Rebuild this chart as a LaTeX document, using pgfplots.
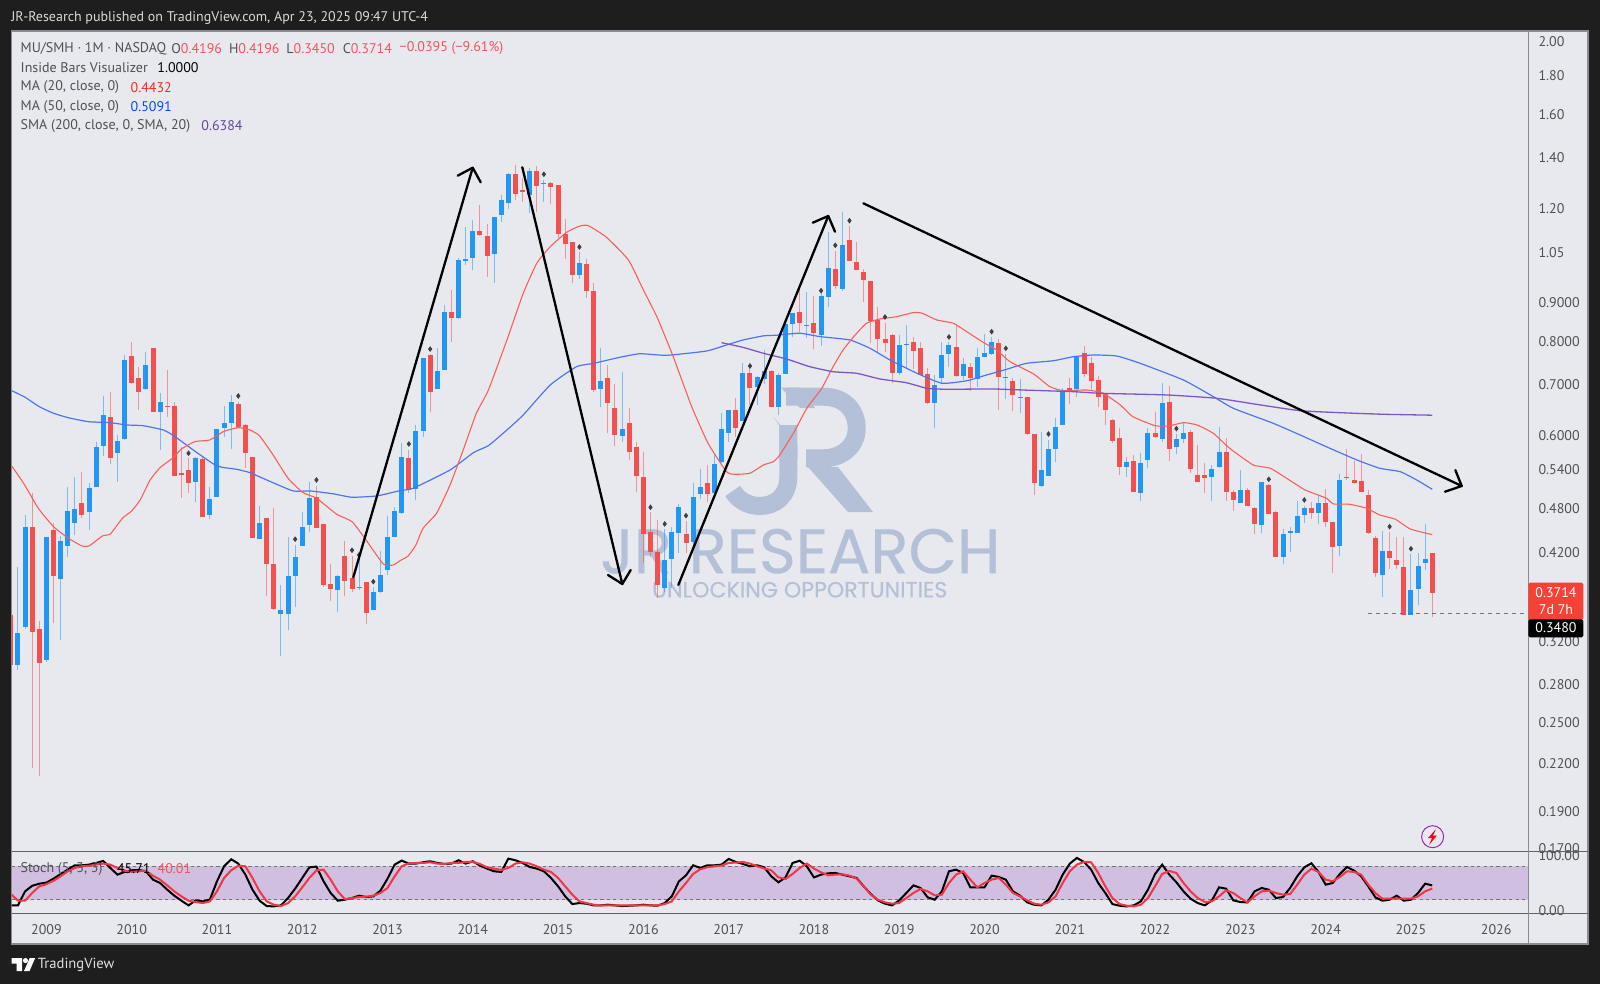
\documentclass[border=0pt]{standalone}
\usepackage{fontspec}
\usepackage{pgfplots}
\usepackage{pgfplotstable}
\pgfplotsset{compat=1.18}
\setmainfont{PT Sans}
\newfontfamily\wmfont[FakeBold=0.4]{Poppins}
\newfontfamily\symfont{DejaVu Sans}

\definecolor{bgdark}{HTML}{1E1E1E}
\definecolor{pane}{HTML}{E8E9EE}
\definecolor{edge}{HTML}{8A8B90}
\definecolor{txt}{HTML}{4F5054}
\definecolor{upc}{HTML}{2196F3}
\definecolor{dnc}{HTML}{F2504E}
\definecolor{valred}{HTML}{F7525F}
\definecolor{ma20}{HTML}{F6605A}
\definecolor{ma50}{HTML}{4E74F0}
\definecolor{sma200}{HTML}{7E57C2}
\definecolor{band}{HTML}{D0BFE0}
\definecolor{stochd}{HTML}{F23645}
\definecolor{wm}{HTML}{B3C0D8}
\definecolor{tagred}{HTML}{F44336}
\definecolor{zapc}{HTML}{9C27B0}

% monthly candles, m = months since Jan 2009
\pgfplotstableread{
m o h l c
-4 0.2977 0.4020 0.2932 0.3280
-3 0.3346 0.4707 0.3323 0.4542
0 0.3023 0.4406 0.3008 0.4406
2 0.3875 0.4415 0.3213 0.4344
3 0.4286 0.5123 0.4144 0.4769
4 0.4594 0.5292 0.4428 0.4798
6 0.4755 0.5186 0.4496 0.5117
7 0.5133 0.5889 0.5133 0.5794
8 0.5812 0.6776 0.5637 0.6394
10 0.5684 0.6010 0.5211 0.5901
11 0.5931 0.7673 0.5919 0.7563
14 0.6923 0.7743 0.6895 0.7442
16 0.6453 0.6826 0.5741 0.6641
21 0.5211 0.5624 0.4902 0.5602
23 0.4711 0.5123 0.4646 0.4939
24 0.4978 0.6121 0.4978 0.6121
25 0.6140 0.6567 0.5967 0.6229
26 0.6240 0.6791 0.5758 0.6641
30 0.4374 0.4839 0.4374 0.4594
33 0.3483 0.3801 0.3063 0.3521
34 0.3479 0.4406 0.3313 0.3907
35 0.3911 0.4296 0.3557 0.4137
36 0.4278 0.4755 0.4278 0.4534
37 0.4570 0.5202 0.4473 0.4958
41 0.3746 0.3919 0.3503 0.3911
44 0.3772 0.4143 0.3749 0.3781
46 0.3521 0.3781 0.3521 0.3721
47 0.3724 0.4221 0.3706 0.3923
48 0.3979 0.4693 0.3919 0.4406
49 0.4406 0.4826 0.4406 0.4769
50 0.4740 0.5860 0.4722 0.5613
52 0.5097 0.6196 0.4928 0.6090
53 0.6090 0.7604 0.5967 0.7596
55 0.6916 0.7831 0.6916 0.7307
56 0.7322 0.8939 0.7322 0.8757
58 0.8590 1.0308 0.8564 1.0245
59 1.0238 1.1332 1.0100 1.0270
60 1.0318 1.1586 0.9946 1.1204
63 1.0454 1.1704 0.9551 1.1704
64 1.1755 1.2507 1.1506 1.2327
65 1.2216 1.3363 1.1971 1.3323
68 1.2507 1.3578 1.1837 1.3444
70 1.2915 1.3091 1.2253 1.2953
75 0.9797 1.0499 0.9668 1.0152
78 0.6910 0.7846 0.6552 0.7093
81 0.5992 0.7278 0.5889 0.6115
87 0.3763 0.4506 0.3720 0.4102
88 0.4111 0.4534 0.3763 0.4469
89 0.4451 0.4868 0.4188 0.4819
91 0.4339 0.5196 0.4273 0.4978
92 0.5015 0.5411 0.4939 0.5123
94 0.5031 0.5684 0.5004 0.5501
95 0.5539 0.6422 0.5513 0.6121
96 0.6040 0.6486 0.5889 0.6486
98 0.6278 0.7480 0.6278 0.7263
100 0.6953 0.7196 0.6587 0.7168
101 0.7137 0.7790 0.7020 0.7300
103 0.6552 0.7269 0.6389 0.7225
104 0.7241 0.8431 0.7241 0.8431
105 0.8435 0.8733 0.8115 0.8717
107 0.8384 0.9309 0.8089 0.8417
109 0.8149 0.9264 0.7887 0.9188
110 0.9148 1.1160 0.8892 1.0008
112 0.9385 1.1884 0.9320 1.0746
120 0.7256 0.8156 0.7218 0.7918
121 0.7911 0.8409 0.7368 0.7935
125 0.6633 0.7218 0.6134 0.7004
126 0.7145 0.7976 0.7013 0.7666
127 0.7703 0.7991 0.7404 0.7918
129 0.7189 0.7610 0.7108 0.7465
131 0.7123 0.7831 0.6964 0.7619
132 0.7633 0.8181 0.7619 0.7727
133 0.7696 0.8115 0.7673 0.7976
135 0.7152 0.7696 0.6702 0.7174
137 0.6729 0.7130 0.6433 0.6749
140 0.5148 0.6060 0.5123 0.5400
141 0.5308 0.5919 0.5298 0.5758
142 0.5753 0.6323 0.5539 0.6153
143 0.6196 0.6931 0.6196 0.6880
145 0.6916 0.7633 0.6743 0.7619
152 0.5456 0.5624 0.5282 0.5539
154 0.5040 0.5694 0.4913 0.5513
155 0.5568 0.6134 0.5429 0.6040
157 0.5931 0.7038 0.5878 0.6620
159 0.5800 0.6022 0.5672 0.5931
160 0.5931 0.6240 0.5871 0.6040
164 0.5287 0.5484 0.4913 0.5411
165 0.5445 0.6153 0.5429 0.5712
168 0.4887 0.5400 0.4887 0.5086
171 0.4566 0.5207 0.4451 0.5207
174 0.4144 0.4510 0.4049 0.4442
175 0.4451 0.4542 0.4208 0.4482
176 0.4460 0.4918 0.4460 0.4693
177 0.4702 0.4839 0.4590 0.4813
179 0.4740 0.4999 0.4576 0.4878
182 0.4286 0.5335 0.4157 0.5238
188 0.3919 0.4482 0.3667 0.4221
192 0.3468 0.4178 0.3468 0.3743
193 0.3754 0.4195 0.3575 0.4024
194 0.4069 0.4580 0.3979 0.4111
}\upbars

\pgfplotstableread{
m o h l c
-5 0.3468 0.3468 0.2977 0.2977
-2 0.4542 0.5031 0.2172 0.3293
-1 0.3323 0.3405 0.2124 0.2998
1 0.4500 0.4590 0.3387 0.3911
5 0.4878 0.5368 0.4660 0.4711
9 0.6343 0.6853 0.5501 0.5607
12 0.7642 0.7991 0.7018 0.7038
13 0.7146 0.7404 0.6486 0.6860
15 0.7846 0.7846 0.6453 0.6453
17 0.6567 0.7329 0.6353 0.6541
18 0.6572 0.6641 0.5307 0.5307
19 0.5347 0.5800 0.4954 0.5324
20 0.5400 0.5597 0.5031 0.5196
22 0.5585 0.5637 0.4674 0.4674
27 0.6607 0.6653 0.6140 0.6153
28 0.6196 0.6215 0.5439 0.5684
29 0.5613 0.5613 0.4384 0.4384
31 0.4660 0.4664 0.3678 0.4049
32 0.4053 0.4813 0.3524 0.3535
38 0.4969 0.5148 0.4520 0.4520
39 0.4576 0.4580 0.3774 0.3801
40 0.3809 0.4053 0.3619 0.3751
42 0.4153 0.4348 0.3678 0.3851
43 0.3887 0.4153 0.3717 0.3758
45 0.3832 0.3832 0.3374 0.3486
51 0.5597 0.5741 0.5031 0.5081
54 0.7673 0.7696 0.6453 0.6860
57 0.8757 0.9357 0.7991 0.8582
61 1.1204 1.2130 1.1035 1.1079
62 1.1025 1.1447 0.9746 1.0381
66 1.3323 1.3706 1.2316 1.2545
67 1.2710 1.3172 1.2253 1.2610
69 1.3444 1.3677 1.1884 1.2860
71 1.2973 1.3000 1.2168 1.2828
72 1.2895 1.2895 1.0968 1.1093
73 1.1103 1.1611 1.0276 1.0769
74 1.0825 1.0844 0.9569 0.9797
76 1.0131 1.0276 0.9123 0.9329
77 0.9329 0.9551 0.6860 0.6895
79 0.7159 0.7442 0.6052 0.6620
80 0.6520 0.7013 0.5817 0.6010
82 0.6240 0.6520 0.5568 0.5712
83 0.5794 0.5889 0.5046 0.5308
84 0.5287 0.5712 0.4061 0.4442
85 0.4465 0.4755 0.4144 0.4208
86 0.4208 0.4636 0.3649 0.3801
90 0.4442 0.4626 0.4188 0.4326
93 0.5191 0.5484 0.4902 0.5020
97 0.6486 0.6722 0.5979 0.6134
99 0.7263 0.7480 0.6587 0.6938
102 0.7307 0.7329 0.6541 0.6541
106 0.8757 0.9405 0.8238 0.8469
108 0.8453 0.9188 0.7814 0.8199
111 0.9968 1.0540 0.9377 0.9473
113 1.0900 1.1377 1.0214 1.0214
114 1.0183 1.0844 0.9946 0.9946
115 0.9895 0.9968 0.9028 0.9647
116 0.9609 0.9609 0.7959 0.8505
117 0.8538 0.8876 0.7750 0.8057
118 0.8057 0.8453 0.7750 0.7967
119 0.8149 0.8174 0.7050 0.7269
122 0.7991 0.8115 0.7352 0.7767
123 0.7831 0.7976 0.7218 0.7218
124 0.7241 0.7368 0.6600 0.6633
128 0.7863 0.8431 0.7174 0.7189
130 0.7397 0.7494 0.6874 0.7159
134 0.7952 0.8057 0.6486 0.7180
136 0.7093 0.7159 0.6472 0.6791
138 0.6743 0.6743 0.6010 0.6022
139 0.6022 0.6022 0.5004 0.5186
144 0.6931 0.7145 0.6607 0.6895
146 0.7727 0.7887 0.7181 0.7234
147 0.7494 0.7619 0.6895 0.7093
148 0.7108 0.7196 0.6552 0.6756
149 0.6806 0.6826 0.6187 0.6486
150 0.6297 0.6304 0.5871 0.5907
151 0.5960 0.6140 0.5319 0.5445
153 0.5551 0.5654 0.5046 0.5046
156 0.6040 0.6441 0.5960 0.5967
158 0.6641 0.6984 0.5556 0.5763
161 0.6072 0.6102 0.5347 0.5417
162 0.5324 0.5830 0.5211 0.5211
163 0.5324 0.5513 0.5040 0.5276
166 0.5701 0.5949 0.4918 0.5055
167 0.5050 0.5081 0.4765 0.4924
169 0.5081 0.5112 0.4834 0.4834
170 0.4809 0.4819 0.4439 0.4584
172 0.5154 0.5175 0.4722 0.4722
173 0.4755 0.4769 0.4144 0.4144
178 0.4809 0.4902 0.4646 0.4740
180 0.4878 0.5092 0.4542 0.4612
181 0.4608 0.4612 0.3947 0.4273
183 0.5292 0.5758 0.5238 0.5279
184 0.5238 0.5551 0.5175 0.5196
185 0.5227 0.5672 0.5046 0.5046
186 0.5004 0.5081 0.4442 0.4451
187 0.4392 0.4415 0.3899 0.3947
189 0.4214 0.4473 0.3991 0.4123
190 0.4098 0.4397 0.3991 0.4040
191 0.4012 0.4406 0.3468 0.3468
195 0.4196 0.4196 0.3450 0.3714
}\downbars

\pgfplotstableread{
m p
-4.87 0.5465
-3.15 0.5175
-1.14 0.4804
1 0.4542
3.1 0.4384
5 0.4282
6 0.4282
7.9 0.4415
9 0.4442
10.7 0.4660
12 0.4765
13.2 0.4928
14.6 0.5238
16 0.5439
17.9 0.5613
19 0.5758
20.9 0.5889
23 0.5919
24.9 0.6072
27 0.6145
28.65 0.6102
30 0.5992
31.9 0.5654
34 0.5266
36.1 0.5040
38 0.4954
40.85 0.4718
43 0.4612
44.8 0.4384
47.4 0.4053
48.8 0.4040
49.75 0.4093
50.9 0.4153
52 0.4296
53 0.4520
54.9 0.4732
56.8 0.5159
58.65 0.5741
60.5 0.6422
62.2 0.6895
64.8 0.8032
67.1 0.9264
69 1.0152
70.9 1.0680
73.2 1.1160
75.1 1.1377
76.25 1.1387
78.8 1.0991
81.9 1.0254
84 0.9357
85.9 0.8623
88.2 0.7633
90.8 0.6552
93.1 0.5860
95.7 0.5372
96.9 0.5330
99 0.5347
100.9 0.5484
102.3 0.5539
103.2 0.5654
105.1 0.6040
107 0.6520
109.1 0.6931
110.7 0.7404
112.1 0.7790
113.8 0.8156
115.4 0.8453
117.3 0.8564
119.6 0.8623
122 0.8733
123.2 0.8717
125.3 0.8538
127.6 0.8453
129.5 0.8238
131.8 0.7976
133.7 0.7790
135.6 0.7516
138.9 0.7241
141.2 0.6964
143.1 0.6880
146.4 0.6895
148.7 0.6826
151.1 0.6587
152.9 0.6353
156 0.6183
157.9 0.6177
160 0.6240
161.9 0.6196
164.2 0.6040
166.5 0.5770
169.8 0.5484
172.2 0.5429
174.5 0.5266
177.1 0.5081
180.1 0.4954
181.1 0.4868
183.4 0.4863
185.8 0.4804
187.6 0.4707
189.8 0.4646
191.9 0.4510
195 0.4432
}\matwenty

\pgfplotstableread{
m p
-4.88 0.6880
-3 0.6743
-1 0.6552
1 0.6422
3.1 0.6334
5.9 0.6259
8.95 0.6240
11.3 0.6196
13.6 0.6183
16.45 0.6102
17.9 0.5997
21.1 0.5701
23.5 0.5501
24.7 0.5445
26.8 0.5411
28.65 0.5356
31 0.5238
34.7 0.5066
37.1 0.5066
40.4 0.5020
43 0.4969
46.5 0.4989
49.75 0.5070
51.6 0.5107
56.8 0.5400
60.1 0.5695
62.2 0.5817
64.8 0.6102
67.1 0.6389
70.9 0.7002
74.6 0.7404
77 0.7480
80.7 0.7619
83.5 0.7703
87.3 0.7666
92.9 0.7767
95.7 0.7911
98.05 0.8032
100.9 0.8134
102.75 0.8149
106 0.8199
108.85 0.8115
113.05 0.8032
115.9 0.7831
118.7 0.7556
122.5 0.7256
126 0.7038
129.5 0.7093
132.3 0.7218
135.1 0.7345
137.9 0.7480
141.7 0.7540
144.5 0.7633
147.3 0.7673
150.6 0.7649
153.9 0.7480
160 0.7108
164.2 0.6756
167 0.6520
172.6 0.6229
176.4 0.6010
180.6 0.5770
184.4 0.5568
187.6 0.5429
190.5 0.5372
192.8 0.5238
195 0.5091
}\mafifty

\pgfplotstableread{
m p
95 0.7967
98 0.7855
100.9 0.7713
103.2 0.7619
104.6 0.7556
107.4 0.7404
110.7 0.7291
114 0.7256
117.3 0.7130
121 0.7050
123.9 0.6931
126.7 0.6910
133.2 0.6916
138.4 0.6889
144.5 0.6860
148.25 0.6826
157.6 0.6791
164.7 0.6722
170.8 0.6587
176.4 0.6472
182 0.6433
188.1 0.6402
195 0.6384
}\smatwohundred

% inside bar markers
\pgfplotstableread{
m p
20 0.5684
27 0.6770
35 0.4371
38 0.5238
43 0.4226
44 0.4166
46 0.3840
51 0.5847
54 0.7814
70 1.3323
75 1.0669
85 0.4819
87 0.4580
90 0.4697
99 0.7419
109 0.9337
111 1.0725
113 1.1561
118 0.8616
127 0.8106
133 0.8238
135 0.7831
141 0.6027
159 0.6127
172 0.5249
177 0.4928
189 0.4542
192 0.4246
}\insidebars

% stochastic, %K and %D per month
\pgfplotstableread{
m k d
-4.9 9.8 29
-4 9.8 18.2
-3 35 18.2
-2 45 32
-1 48.8 44
0 50.6 48
1 57.8 54
2 66 62
3 74 71
4 81.8 77
5 81.8 80
6 83 81
7 86 83
8 89.6 84.8
9 77 83
10 65 77
11 69.8 72
12 72.8 70
13 73.4 71
14 71 72
15 56 63
16 50 56
17 38 45.8
18 27.2 35
19 18.2 26
20 9.8 18.2
21 18.8 15.8
22 17 14
23 20 17
24 53 35
25 80 59
26 92.6 72.8
27 84.8 81
28 65 80
29 38 59
30 18.2 35
31 8.6 17
32 8 11
33 9.8 8.6
34 23 14
35 39.8 26
36 59 42
37 78 59
38 79.4 72.8
39 53 74
40 32 56
41 18.2 35
42 20 21
43 23 23
44 27.2 24.8
45 24.8 25.4
46 26 27.2
47 36.2 32
48 57.8 41
49 83 62
50 90.2 80
51 84.8 85.4
52 84.8 86
53 87.2 86
54 89 87.2
55 86 84.8
56 84.2 84.2
57 84.8 86
58 90.8 86
59 84.8 87.8
60 89 87.8
61 81.2 84.2
62 75.8 78.2
63 71 75.8
64 69.8 73.4
65 93.8 77
66 90.8 84.8
67 86 87.2
68 78.8 84.8
69 75.8 80
70 71 74
71 59 69.8
72 44 59
73 26 44
74 12.2 29
75 14 17
76 12.8 14
77 9.8 11
78 9.8 9.8
79 11 9.8
80 9.8 9.8
81 8.6 9.8
82 9.2 9.8
83 9.8 9.8
84 11 9.8
85 9.8 9.8
86 9.2 9.8
87 14 12.2
88 26 17
89 53 35
90 63.8 50
91 81.8 66.2
92 77 74.6
93 81.8 78.2
94 81.8 80
95 83 81.2
96 93.2 86
97 87.8 86.6
98 84.2 87.8
99 80 84.8
100 81.8 80
101 78.2 76
102 62 72.8
103 51.2 60.2
104 60 57.2
105 86 66.2
106 90 77
107 80 84.8
108 60 75.8
109 65 69.2
110 67.4 63.8
111 68 65
112 65 65.6
113 62 63.2
114 59 57.8
115 44 44
116 30.2 29
117 18.8 20
118 12.8 15.2
119 9.8 12.8
120 18.8 14
121 32 23
122 45.8 32
123 41 39.2
124 24.2 35
125 20 27.8
126 35 29
127 71 50
128 74 65
129 68 71
130 42.2 56
131 42.2 42.2
132 42.2 50
133 63.2 56
134 60.8 59
135 56 47
136 35 32
137 27.2 26
138 15.2 18.8
139 11 12.8
140 9.8 11
141 20 15.2
142 38 26
143 65 50
144 84.8 71
145 95 83
146 87.8 87.8
147 74 87.2
148 50 68
149 32 44
150 12.2 23
151 9.2 12.2
152 8 9.2
153 9.8 8
154 17 11
155 38 23
156 66.2 44
157 83 66.2
158 65 71.6
159 51.2 68
160 35 50
161 21.8 35
162 14 23
163 9.8 15.8
164 18.8 17
165 42.2 26
166 39.8 36.8
167 18.8 32
168 15.8 23
169 15.2 15.2
170 35 26
171 41 35
172 38 36.2
173 23 32
174 24.8 29
175 41 30.2
176 62 47
177 78.2 65
178 85.4 75.8
179 69.8 69.8
180 47 56
181 50 53
182 66.2 60.8
183 78.8 71
184 72.2 69.8
185 62 65
186 44 47
187 24.2 32
188 18.2 21.8
189 20 21.8
190 27.2 21.8
191 18.2 21.8
192 20 21.8
193 32 26
194 48.8 35
195 45.71 40.01
}\stoch

\newcommand{\smalltxt}{\fontsize{7}{8.4}\selectfont}

\begin{document}
\begin{tikzpicture}
\path[use as bounding box] (0pt,0pt) rectangle (800pt,-492pt);

% background, pane and watermark in screen pixels (1px = 0.5pt, y down)
\begin{scope}[x=0.5pt,y=-0.5pt]
  \fill[bgdark] (0,0) rectangle (1600,984);
  \fill[pane,draw=edge,line width=0.6pt] (11.5,31) rectangle (1588,944);
  % JR logo
  \draw[wm,line width=9pt] (788.3,425) -- (788.3,476.7)
    .. controls (788.3,496) and (775,506) .. (760,506)
    .. controls (748,506) and (738,500) .. (732.7,491);
  \fill[wm] (773,417) -- (797.3,443) -- (797.3,460) -- (779.3,460) -- (779.3,425) -- cycle;
  \draw[wm,line width=9pt] (786,396.7) -- (823.3,396.7)
    .. controls (846,396.7) and (856.7,412) .. (856.7,428.3)
    .. controls (856.7,446) and (842,458.3) .. (823.3,458.3) -- (806,458.3);
  \fill[wm] (808,467) -- (838,467) -- (873,512) -- (848,512) -- cycle;
  \fill[wm] (781,387.7) -- (800,387.7) -- (815,408) -- (800,408) -- cycle;
  \node[wm,anchor=south west,inner sep=0pt] at (600,574)
    {\resizebox{200pt}{!}{\wmfont JR RESEARCH}};
  \node[wm,anchor=south west,inner sep=0pt] at (651.7,598)
    {\resizebox{147.6pt}{!}{\wmfont UNLOCKING OPPORTUNITIES}};
\end{scope}

% main price pane
\begin{axis}[
  at={(5.75pt,-425.65pt)}, anchor=south west,
  scale only axis, width=758.55pt, height=410.15pt,
  xmin=-4.911, xmax=208.56,
  ymode=log, ymin=0.16855, ymax=2.0633,
  axis line style={draw=none},
  xtick=\empty,
  ytick={2,1.8,1.6,1.4,1.2,1.05,0.9,0.8,0.7,0.6,0.54,0.48,0.42,0.32,0.28,0.25,0.22,0.19,0.17},
  yticklabels={2.00,1.80,1.60,1.40,1.20,1.05,0.9000,0.8000,0.7000,0.6000,0.5400,0.4800,0.4200,0.3200,0.2800,0.2500,0.2200,0.1900,0.1700},
  minor ytick={},
  major tick length=0pt,
  yticklabel pos=right,
  yticklabel style={font=\smalltxt,text=txt,anchor=west,xshift=4.75pt,inner sep=0pt},
]
% wicks
\addplot[draw=none,no markers,error bars/.cd,y dir=minus,y explicit,error mark=none,
  error bar style={line width=0.5pt,draw=upc,opacity=0.55}]
  table[x=m,y=h,y error minus expr=\thisrow{h}-\thisrow{l}] {\upbars};
\addplot[draw=none,no markers,error bars/.cd,y dir=minus,y explicit,error mark=none,
  error bar style={line width=0.5pt,draw=dnc,opacity=0.55}]
  table[x=m,y=h,y error minus expr=\thisrow{h}-\thisrow{l}] {\downbars};
% bodies
\addplot[draw=none,no markers,error bars/.cd,y dir=minus,y explicit,error mark=none,
  error bar style={line width=2.5pt,draw=upc}]
  table[x=m,y=c,y error minus expr=\thisrow{c}-\thisrow{o}] {\upbars};
\addplot[draw=none,no markers,error bars/.cd,y dir=minus,y explicit,error mark=none,
  error bar style={line width=2.5pt,draw=dnc}]
  table[x=m,y=o,y error minus expr=\thisrow{o}-\thisrow{c}] {\downbars};
% moving averages
\addplot[ma50,line width=0.6pt,no marks,smooth,tension=0.3] table[x=m,y=p] {\mafifty};
\addplot[ma20,line width=0.55pt,no marks,smooth,tension=0.3] table[x=m,y=p] {\matwenty};
\addplot[sma200,line width=0.65pt,no marks,smooth,tension=0.3] table[x=m,y=p] {\smatwohundred};
% inside bars
\addplot[only marks,mark=diamond*,mark size=1.1pt,mark options={draw=black!75,fill=black!75}]
  table[x=m,y=p] {\insidebars};
% last close marker line
\addplot[black!55,line width=0.45pt,dash pattern=on 2pt off 2pt,no marks]
  coordinates {(185.96,0.3480)(208.56,0.3480)};
\end{axis}

% stochastic pane
\begin{axis}[
  at={(5.75pt,-456.65pt)}, anchor=south west,
  scale only axis, width=758.55pt, height=31pt,
  xmin=-4.911, xmax=208.56,
  ymin=-4.43, ymax=106.9,
  axis line style={draw=none},
  xtick={0,12,...,204},
  xticklabels={2009,2010,2011,2012,2013,2014,2015,2016,2017,2018,2019,2020,2021,2022,2023,2024,2025,2026},
  ytick={0,100},
  yticklabels={0.00,100.00},
  major tick length=0pt,
  yticklabel pos=right,
  yticklabel style={font=\smalltxt,text=txt,anchor=west,xshift=4.75pt,inner sep=0pt},
  xticklabel style={font=\smalltxt,text=txt,anchor=north,yshift=-5.5pt,inner sep=0pt},
]
\addplot[fill=band,draw=none] coordinates {(-4.911,20)(208.56,20)(208.56,80)(-4.911,80)} --cycle;
\addplot[black!55,line width=0.45pt,dash pattern=on 1.6pt off 1.6pt,no marks] coordinates {(-4.911,80)(208.56,80)};
\addplot[black!55,line width=0.45pt,dash pattern=on 1.6pt off 1.6pt,no marks] coordinates {(-4.911,20)(208.56,20)};
\addplot[black,line width=1pt,no marks] table[x=m,y=k] {\stoch};
\addplot[stochd,line width=1pt,no marks] table[x=m,y=d] {\stoch};
\end{axis}

% overlays in screen pixels
\begin{scope}[x=0.5pt,y=-0.5pt]
  \draw[edge!70!black,line width=0.5pt] (11.5,851.3) -- (1588,851.3);
  \draw[edge!70!black,line width=0.5pt] (11.5,913.3) -- (1588,913.3);
  \draw[edge,line width=0.5pt] (1528.6,31) -- (1528.6,944);

  % drawn trend arrows
  \begin{scope}[black,line width=1.15pt,line cap=round,line join=round]
    \draw (353.3,577.3) -- (472.7,167.7);
    \draw (457.7,175.7) -- (472.7,167.7) -- (480.7,182.3);
    \draw (522.3,167.3) -- (622.3,584);
    \draw (608,575) -- (622.3,584) -- (630.7,570);
    \draw (678.3,585) -- (828.3,216);
    \draw (812.7,222.7) -- (828.3,216) -- (835,231.7);
    \draw (863.3,203.3) -- (1461.7,486);
    \draw (1445,491.7) -- (1461.7,486) -- (1455.3,470);
  \end{scope}

  % header and legend texts
  \node[anchor=west,inner sep=0pt,text=white!85!black,font=\smalltxt] at (11,18)
    {JR-Research published on TradingView.com, Apr 23, 2025 09:47 UTC-4};
  \begin{scope}[font=\smalltxt,inner sep=0pt]
    \node[anchor=west,text=txt] at (20.3,48.3) {MU/SMH · 1M · NASDAQ};
    \node[anchor=west,text=txt] at (171,48.3) {O\textcolor{valred}{0.4196}};
    \node[anchor=west,text=txt] at (228.6,48.3) {H\textcolor{valred}{0.4196}};
    \node[anchor=west,text=txt] at (286,48.3) {L\textcolor{valred}{0.3450}};
    \node[anchor=west,text=txt] at (342.4,48.3) {C\textcolor{valred}{0.3714}};
    \node[anchor=west,text=valred] at (399.3,48.3) {−0.0395 (−9.61\%)};
    \node[anchor=west,text=txt] at (20.3,67.6) {Inside Bars Visualizer};
    \node[anchor=west,text=black] at (157,67.6) {1.0000};
    \node[anchor=west,text=txt] at (20.3,87.3) {MA (20, close, 0)};
    \node[anchor=west,text=red!85!white] at (130.3,87.3) {0.4432};
    \node[anchor=west,text=txt] at (20.3,106.7) {MA (50, close, 0)};
    \node[anchor=west,text=blue!70!cyan] at (130.3,106.7) {0.5091};
    \node[anchor=west,text=txt] at (20.3,126) {SMA (200, close, 0, SMA, 20)};
    \node[anchor=west,text=sma200!80!black] at (201,126) {0.6384};
    \node[anchor=west,text=txt] at (20.3,869) {Stoch (5, 3, 3)};
    \node[anchor=west,text=black] at (116.7,869) {45.71};
    \node[anchor=west,text=valred] at (157.3,869) {40.01};
  \end{scope}

  % price tags
  \fill[tagred,rounded corners=0.8pt] (1528.3,582.7) rectangle (1583.3,620);
  \fill[black,rounded corners=0.8pt] (1528.3,619.3) rectangle (1583.3,637.3);
  \node[text=white,font=\smalltxt,inner sep=0pt] at (1556,592.7) {0.3714};
  \node[text=white,font=\smalltxt,inner sep=0pt] at (1556,610) {7d 7h};
  \node[text=white,font=\smalltxt,inner sep=0pt] at (1556,628) {0.3480};

  % lightning badge
  \draw[zapc,line width=0.5pt] (1432.6,836.7) circle (11);
  \fill[red!80!zapc] (1436,829) -- (1428,838) -- (1432,838) -- (1429,845) -- (1437,835.5) -- (1433,835.5) -- cycle;

  % footer logo
  \fill[white] (11.5,958) -- (22,958) -- (22,971) -- (16.5,971) -- (16.5,963.5) -- (11.5,963.5) -- cycle;
  \fill[white] (25.5,960.6) circle (2.6);
  \fill[white] (29.8,958) -- (35.2,958) -- (29.5,971) -- (24,971) -- cycle;
  \node[anchor=west,inner sep=0pt,text=white!88!black,font=\fontsize{7.3}{9}\selectfont] at (37.5,965) {TradingView};
\end{scope}
\end{tikzpicture}
\end{document}
